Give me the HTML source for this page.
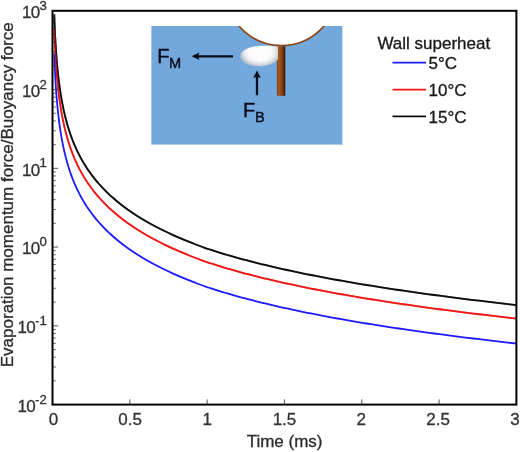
<!DOCTYPE html>
<html><head><meta charset="utf-8"><title>Evaporation momentum force/Buoyancy force</title>
<style>
html,body{margin:0;padding:0;background:#fff;}
body{width:520px;height:452px;overflow:hidden;font-family:"Liberation Sans",Arial,sans-serif;}
svg{display:block;}
svg text{font-family:"Liberation Sans",Arial,sans-serif;}
</style></head><body>
<svg width="520" height="452" viewBox="0 0 520 452">
<defs>
<filter id="soft" x="0" y="0" width="520" height="452" filterUnits="userSpaceOnUse"><feGaussianBlur stdDeviation="0.45"/></filter>
<clipPath id="ax"><rect x="52.5" y="10.8" width="463.9" height="393.8"/></clipPath>
<clipPath id="ins"><rect x="151.2" y="26" width="191.4" height="118.8"/></clipPath>
<radialGradient id="bub" gradientUnits="userSpaceOnUse" cx="260" cy="52" r="21" gradientTransform="translate(260 52) scale(1 0.72) translate(-260 -52)">
<stop offset="0" stop-color="#ffffff"/><stop offset="0.55" stop-color="#fbfbfc"/><stop offset="0.75" stop-color="#e6e8ec"/><stop offset="0.9" stop-color="#c4ccd6"/><stop offset="1" stop-color="#a9b8ca"/>
</radialGradient>
<linearGradient id="wire" x1="0" x2="1" y1="0" y2="0">
<stop offset="0" stop-color="#7a3a10"/><stop offset="0.18" stop-color="#a5561f"/><stop offset="0.6" stop-color="#8a4415"/><stop offset="0.8" stop-color="#5a2a0a"/><stop offset="1" stop-color="#2e1404"/>
</linearGradient>
</defs>
<rect width="520" height="452" fill="#ffffff"/>
<g filter="url(#soft)">
<!-- inset -->
<g clip-path="url(#ins)">
<rect x="151.2" y="26" width="191.4" height="118.8" fill="#72a8dc"/>
<circle cx="281.5" cy="-10.5" r="56" fill="#ffffff" stroke="#8a4513" stroke-width="1.6"/>
<rect x="276.9" y="46.2" width="8.4" height="49.6" fill="url(#wire)"/>
<path d="M240.2,56 C240.4,50.5 249,46.4 261,45.8 C268,45.5 274,45.8 278,46.6 L278,59.5 C274.5,63.8 266.5,66.6 257,66.3 C247,66 240,62 240.2,56 Z" fill="url(#bub)"/>
</g>
<g stroke="#0a0f1c" stroke-width="2.3" fill="#0a0f1c">
<line x1="197" y1="56.3" x2="233" y2="56.3"/>
<path d="M191.6,56.3 L199.4,52.5 L198,56.3 L199.4,60.1 Z" stroke="none"/>
<line x1="257" y1="76" x2="257" y2="95.2"/>
<path d="M257,70.4 L260.8,78 L257,76.8 L253.2,78 Z" stroke="none"/>
</g>
<g fill="#0a0f1c" font-size="20" stroke="#0a0f1c" stroke-width="0.4">
<text x="157.3" y="63">F<tspan dy="4.8" dx="-0.4" font-size="14.6">M</tspan></text>
<text x="243" y="117">F<tspan dy="4.9" dx="-0.3" font-size="14.6">B</tspan></text>
</g>
<!-- curves -->
<g clip-path="url(#ax)">
<path d="M54.26,15.16 L54.29,15.88 L54.31,16.59 L54.34,17.31 L54.36,18.02 L54.39,18.74 L54.42,19.45 L54.44,20.17 L54.47,20.88 L54.50,21.60 L54.53,22.31 L54.55,23.03 L54.58,23.74 L54.61,24.46 L54.64,25.17 L54.67,25.89 L54.70,26.60 L54.73,27.32 L54.77,28.03 L54.80,28.75 L54.83,29.46 L54.86,30.18 L54.90,30.89 L54.93,31.61 L54.96,32.32 L55.00,33.04 L55.03,33.75 L55.07,34.47 L55.10,35.18 L55.14,35.90 L55.18,36.61 L55.22,37.33 L55.25,38.04 L55.29,38.76 L55.33,39.47 L55.37,40.19 L55.41,40.90 L55.45,41.62 L55.49,42.33 L55.54,43.05 L55.58,43.76 L55.62,44.48 L55.66,45.19 L55.71,45.91 L55.75,46.62 L55.80,47.34 L55.85,48.05 L55.89,48.77 L55.94,49.48 L55.99,50.20 L56.04,50.91 L56.09,51.63 L56.14,52.34 L56.19,53.06 L56.24,53.77 L56.29,54.49 L56.35,55.20 L56.40,55.92 L56.45,56.63 L56.51,57.35 L56.57,58.06 L56.62,58.78 L56.68,59.49 L56.74,60.21 L56.80,60.92 L56.86,61.64 L56.92,62.35 L56.98,63.07 L57.05,63.78 L57.11,64.50 L57.17,65.21 L57.24,65.93 L57.31,66.64 L57.37,67.36 L57.44,68.08 L57.51,68.79 L57.58,69.51 L57.65,70.22 L57.73,70.94 L57.80,71.65 L57.87,72.37 L57.95,73.08 L58.03,73.80 L58.10,74.51 L58.18,75.23 L58.26,75.94 L58.34,76.66 L58.42,77.38 L58.51,78.09 L58.59,78.81 L58.68,79.52 L58.76,80.24 L58.85,80.95 L58.94,81.67 L59.03,82.38 L59.12,83.10 L59.22,83.82 L59.31,84.53 L59.40,85.25 L59.50,85.96 L59.60,86.68 L59.70,87.39 L59.80,88.11 L59.90,88.83 L60.01,89.54 L60.11,90.26 L60.22,90.97 L60.33,91.69 L60.44,92.40 L60.55,93.12 L60.66,93.84 L60.78,94.55 L60.89,95.27 L61.01,95.98 L61.13,96.70 L61.25,97.42 L61.37,98.13 L61.50,98.85 L61.62,99.56 L61.75,100.28 L61.88,101.00 L62.01,101.71 L62.15,102.43 L62.28,103.15 L62.42,103.86 L62.56,104.58 L62.70,105.30 L62.84,106.01 L62.99,106.73 L63.13,107.44 L63.28,108.16 L63.44,108.88 L63.59,109.59 L63.74,110.31 L63.90,111.03 L64.06,111.75 L64.22,112.46 L64.39,113.18 L64.56,113.90 L64.72,114.61 L64.90,115.33 L65.07,116.05 L65.25,116.76 L65.43,117.48 L65.61,118.20 L65.79,118.92 L65.98,119.63 L66.17,120.35 L66.36,121.07 L66.55,121.79 L66.75,122.50 L66.95,123.22 L67.15,123.94 L67.36,124.66 L67.57,125.38 L67.78,126.09 L67.99,126.81 L68.21,127.53 L68.43,128.25 L68.65,128.97 L68.88,129.69 L69.11,130.40 L69.34,131.12 L69.58,131.84 L69.82,132.56 L70.06,133.28 L70.31,134.00 L70.56,134.72 L70.81,135.44 L71.07,136.16 L71.33,136.88 L71.59,137.60 L71.86,138.31 L72.13,139.03 L72.41,139.75 L72.69,140.47 L72.97,141.19 L73.26,141.91 L73.55,142.63 L73.84,143.36 L74.14,144.08 L74.45,144.80 L74.75,145.52 L75.07,146.24 L75.38,146.96 L75.70,147.68 L76.03,148.40 L76.36,149.12 L76.69,149.85 L77.03,150.57 L77.38,151.29 L77.73,152.01 L78.08,152.73 L78.44,153.46 L78.80,154.18 L79.17,154.90 L79.55,155.63 L79.93,156.35 L80.31,157.07 L80.70,157.80 L81.10,158.52 L81.50,159.24 L81.90,159.97 L82.32,160.69 L82.74,161.42 L83.16,162.14 L83.59,162.87 L84.03,163.59 L84.47,164.32 L84.92,165.04 L85.37,165.77 L85.83,166.50 L86.30,167.22 L86.77,167.95 L87.26,168.68 L87.74,169.40 L88.24,170.13 L88.74,170.86 L89.25,171.59 L89.76,172.32 L90.29,173.04 L90.82,173.77 L91.35,174.50 L91.90,175.23 L92.45,175.96 L93.01,176.69 L93.58,177.42 L94.16,178.15 L94.74,178.88 L95.33,179.62 L95.93,180.35 L96.54,181.08 L97.16,181.81 L97.79,182.54 L98.42,183.28 L99.07,184.01 L99.72,184.74 L100.38,185.48 L101.06,186.21 L101.74,186.95 L102.43,187.68 L103.13,188.42 L103.84,189.15 L104.56,189.89 L105.29,190.63 L106.03,191.37 L106.78,192.10 L107.54,192.84 L108.31,193.58 L109.10,194.32 L109.89,195.06 L110.70,195.80 L111.51,196.54 L112.34,197.28 L113.18,198.02 L114.03,198.76 L114.89,199.50 L115.77,200.24 L116.66,200.98 L117.56,201.73 L118.47,202.47 L119.40,203.21 L120.33,203.96 L121.29,204.70 L122.25,205.45 L123.23,206.19 L124.22,206.94 L125.23,207.69 L126.25,208.43 L127.28,209.18 L128.33,209.93 L129.40,210.68 L130.47,211.43 L131.57,212.18 L132.68,212.92 L133.80,213.67 L134.94,214.43 L136.10,215.18 L137.27,215.93 L138.46,216.68 L139.67,217.43 L140.89,218.18 L142.13,218.94 L143.39,219.69 L144.66,220.44 L145.96,221.20 L147.27,221.95 L148.60,222.71 L149.95,223.46 L151.31,224.22 L152.70,224.98 L154.11,225.73 L155.53,226.49 L156.98,227.25 L158.44,228.00 L159.93,228.76 L161.44,229.52 L162.96,230.28 L164.51,231.04 L166.08,231.80 L167.68,232.55 L169.29,233.31 L170.93,234.07 L172.59,234.83 L174.28,235.59 L175.99,236.36 L177.72,237.12 L179.48,237.88 L181.26,238.64 L183.06,239.40 L184.90,240.16 L186.75,240.92 L188.64,241.68 L190.55,242.45 L192.48,243.21 L194.45,243.97 L196.44,244.73 L198.46,245.50 L200.51,246.26 L202.58,247.02 L204.69,247.78 L206.82,248.55 L208.99,249.27 L211.18,249.98 L213.41,250.70 L215.67,251.41 L217.96,252.13 L220.28,252.84 L222.63,253.56 L225.02,254.27 L227.44,254.99 L229.89,255.70 L232.38,256.41 L234.91,257.13 L237.46,257.84 L240.06,258.56 L242.69,259.27 L245.36,259.99 L248.06,260.70 L250.81,261.42 L253.59,262.13 L256.41,262.85 L259.27,263.56 L262.17,264.28 L265.12,264.99 L268.10,265.71 L271.12,266.42 L274.19,267.14 L277.30,267.85 L280.45,268.57 L283.65,269.28 L286.89,270.00 L290.18,270.71 L293.52,271.43 L296.90,272.14 L300.33,272.86 L303.80,273.57 L307.33,274.29 L310.91,275.00 L314.53,275.71 L318.21,276.43 L321.93,277.14 L325.71,277.86 L329.55,278.57 L333.43,279.29 L337.38,280.00 L341.37,280.72 L345.43,281.43 L349.53,282.15 L353.70,282.86 L357.93,283.58 L362.21,284.29 L366.56,285.01 L370.96,285.72 L375.43,286.44 L379.96,287.15 L384.56,287.87 L389.21,288.58 L393.94,289.30 L398.73,290.01 L403.59,290.73 L408.51,291.44 L413.51,292.16 L418.57,292.87 L423.71,293.59 L428.91,294.30 L434.20,295.01 L439.55,295.73 L444.98,296.44 L450.49,297.16 L456.07,297.87 L461.73,298.59 L467.47,299.30 L473.30,300.02 L479.20,300.73 L485.18,301.45 L491.26,302.16 L497.41,302.88 L503.65,303.59 L509.98,304.31 L516.40,305.02" fill="none" stroke="#111111" stroke-width="1.8" stroke-linejoin="round"/>
<path d="M54.26,28.69 L54.29,29.41 L54.31,30.12 L54.34,30.84 L54.36,31.55 L54.39,32.27 L54.42,32.98 L54.44,33.70 L54.47,34.41 L54.50,35.13 L54.53,35.84 L54.55,36.56 L54.58,37.27 L54.61,37.99 L54.64,38.70 L54.67,39.42 L54.70,40.13 L54.73,40.85 L54.77,41.56 L54.80,42.28 L54.83,42.99 L54.86,43.71 L54.90,44.42 L54.93,45.14 L54.96,45.85 L55.00,46.57 L55.03,47.28 L55.07,48.00 L55.10,48.71 L55.14,49.43 L55.18,50.14 L55.22,50.86 L55.25,51.57 L55.29,52.29 L55.33,53.00 L55.37,53.72 L55.41,54.43 L55.45,55.15 L55.49,55.86 L55.54,56.58 L55.58,57.29 L55.62,58.01 L55.66,58.72 L55.71,59.44 L55.75,60.15 L55.80,60.87 L55.85,61.58 L55.89,62.30 L55.94,63.01 L55.99,63.73 L56.04,64.44 L56.09,65.16 L56.14,65.87 L56.19,66.59 L56.24,67.30 L56.29,68.02 L56.35,68.73 L56.40,69.45 L56.45,70.16 L56.51,70.88 L56.57,71.59 L56.62,72.31 L56.68,73.02 L56.74,73.74 L56.80,74.45 L56.86,75.17 L56.92,75.88 L56.98,76.60 L57.05,77.31 L57.11,78.03 L57.17,78.74 L57.24,79.46 L57.31,80.18 L57.37,80.89 L57.44,81.61 L57.51,82.32 L57.58,83.04 L57.65,83.75 L57.73,84.47 L57.80,85.18 L57.87,85.90 L57.95,86.61 L58.03,87.33 L58.10,88.04 L58.18,88.76 L58.26,89.47 L58.34,90.19 L58.42,90.91 L58.51,91.62 L58.59,92.34 L58.68,93.05 L58.76,93.77 L58.85,94.48 L58.94,95.20 L59.03,95.91 L59.12,96.63 L59.22,97.35 L59.31,98.06 L59.40,98.78 L59.50,99.49 L59.60,100.21 L59.70,100.92 L59.80,101.64 L59.90,102.36 L60.01,103.07 L60.11,103.79 L60.22,104.50 L60.33,105.22 L60.44,105.93 L60.55,106.65 L60.66,107.37 L60.78,108.08 L60.89,108.80 L61.01,109.51 L61.13,110.23 L61.25,110.95 L61.37,111.66 L61.50,112.38 L61.62,113.09 L61.75,113.81 L61.88,114.53 L62.01,115.24 L62.15,115.96 L62.28,116.68 L62.42,117.39 L62.56,118.11 L62.70,118.83 L62.84,119.54 L62.99,120.26 L63.13,120.98 L63.28,121.69 L63.44,122.41 L63.59,123.13 L63.74,123.84 L63.90,124.56 L64.06,125.28 L64.22,125.99 L64.39,126.71 L64.56,127.43 L64.72,128.14 L64.90,128.86 L65.07,129.58 L65.25,130.29 L65.43,131.01 L65.61,131.73 L65.79,132.45 L65.98,133.16 L66.17,133.88 L66.36,134.60 L66.55,135.32 L66.75,136.03 L66.95,136.75 L67.15,137.47 L67.36,138.19 L67.57,138.91 L67.78,139.62 L67.99,140.34 L68.21,141.06 L68.43,141.78 L68.65,142.50 L68.88,143.22 L69.11,143.93 L69.34,144.65 L69.58,145.37 L69.82,146.09 L70.06,146.81 L70.31,147.53 L70.56,148.25 L70.81,148.97 L71.07,149.69 L71.33,150.41 L71.59,151.13 L71.86,151.85 L72.13,152.56 L72.41,153.28 L72.69,154.00 L72.97,154.72 L73.26,155.45 L73.55,156.17 L73.84,156.89 L74.14,157.61 L74.45,158.33 L74.75,159.05 L75.07,159.77 L75.38,160.49 L75.70,161.21 L76.03,161.93 L76.36,162.65 L76.69,163.38 L77.03,164.10 L77.38,164.82 L77.73,165.54 L78.08,166.27 L78.44,166.99 L78.80,167.71 L79.17,168.43 L79.55,169.16 L79.93,169.88 L80.31,170.60 L80.70,171.33 L81.10,172.05 L81.50,172.77 L81.90,173.50 L82.32,174.22 L82.74,174.95 L83.16,175.67 L83.59,176.40 L84.03,177.12 L84.47,177.85 L84.92,178.57 L85.37,179.30 L85.83,180.03 L86.30,180.75 L86.77,181.48 L87.26,182.21 L87.74,182.93 L88.24,183.66 L88.74,184.39 L89.25,185.12 L89.76,185.85 L90.29,186.58 L90.82,187.30 L91.35,188.03 L91.90,188.76 L92.45,189.49 L93.01,190.22 L93.58,190.95 L94.16,191.68 L94.74,192.41 L95.33,193.15 L95.93,193.88 L96.54,194.61 L97.16,195.34 L97.79,196.08 L98.42,196.81 L99.07,197.54 L99.72,198.28 L100.38,199.01 L101.06,199.74 L101.74,200.48 L102.43,201.21 L103.13,201.95 L103.84,202.69 L104.56,203.42 L105.29,204.16 L106.03,204.90 L106.78,205.63 L107.54,206.37 L108.31,207.11 L109.10,207.85 L109.89,208.59 L110.70,209.33 L111.51,210.07 L112.34,210.81 L113.18,211.55 L114.03,212.29 L114.89,213.03 L115.77,213.77 L116.66,214.52 L117.56,215.26 L118.47,216.00 L119.40,216.75 L120.33,217.49 L121.29,218.23 L122.25,218.98 L123.23,219.73 L124.22,220.47 L125.23,221.22 L126.25,221.96 L127.28,222.71 L128.33,223.46 L129.40,224.21 L130.47,224.96 L131.57,225.71 L132.68,226.46 L133.80,227.21 L134.94,227.96 L136.10,228.71 L137.27,229.46 L138.46,230.21 L139.67,230.96 L140.89,231.71 L142.13,232.47 L143.39,233.22 L144.66,233.97 L145.96,234.73 L147.27,235.48 L148.60,236.24 L149.95,236.99 L151.31,237.75 L152.70,238.51 L154.11,239.26 L155.53,240.02 L156.98,240.78 L158.44,241.53 L159.93,242.29 L161.44,243.05 L162.96,243.81 L164.51,244.57 L166.08,245.33 L167.68,246.09 L169.29,246.84 L170.93,247.60 L172.59,248.36 L174.28,249.13 L175.99,249.89 L177.72,250.65 L179.48,251.41 L181.26,252.17 L183.06,252.93 L184.90,253.69 L186.75,254.45 L188.64,255.22 L190.55,255.98 L192.48,256.74 L194.45,257.50 L196.44,258.26 L198.46,259.03 L200.51,259.79 L202.58,260.55 L204.69,261.31 L206.82,262.08 L208.99,262.80 L211.18,263.51 L213.41,264.23 L215.67,264.94 L217.96,265.66 L220.28,266.37 L222.63,267.09 L225.02,267.80 L227.44,268.52 L229.89,269.23 L232.38,269.95 L234.91,270.66 L237.46,271.37 L240.06,272.09 L242.69,272.80 L245.36,273.52 L248.06,274.23 L250.81,274.95 L253.59,275.66 L256.41,276.38 L259.27,277.09 L262.17,277.81 L265.12,278.52 L268.10,279.24 L271.12,279.95 L274.19,280.67 L277.30,281.38 L280.45,282.10 L283.65,282.81 L286.89,283.53 L290.18,284.24 L293.52,284.96 L296.90,285.67 L300.33,286.39 L303.80,287.10 L307.33,287.82 L310.91,288.53 L314.53,289.25 L318.21,289.96 L321.93,290.67 L325.71,291.39 L329.55,292.10 L333.43,292.82 L337.38,293.53 L341.37,294.25 L345.43,294.96 L349.53,295.68 L353.70,296.39 L357.93,297.11 L362.21,297.82 L366.56,298.54 L370.96,299.25 L375.43,299.97 L379.96,300.68 L384.56,301.40 L389.21,302.11 L393.94,302.83 L398.73,303.54 L403.59,304.26 L408.51,304.97 L413.51,305.69 L418.57,306.40 L423.71,307.12 L428.91,307.83 L434.20,308.55 L439.55,309.26 L444.98,309.97 L450.49,310.69 L456.07,311.40 L461.73,312.12 L467.47,312.83 L473.30,313.55 L479.20,314.26 L485.18,314.98 L491.26,315.69 L497.41,316.41 L503.65,317.12 L509.98,317.84 L516.40,318.55" fill="none" stroke="#f01818" stroke-width="1.8" stroke-linejoin="round"/>
<path d="M54.26,53.65 L54.29,54.36 L54.31,55.08 L54.34,55.79 L54.36,56.51 L54.39,57.22 L54.42,57.94 L54.44,58.65 L54.47,59.37 L54.50,60.08 L54.53,60.80 L54.55,61.51 L54.58,62.23 L54.61,62.94 L54.64,63.66 L54.67,64.37 L54.70,65.09 L54.73,65.80 L54.77,66.52 L54.80,67.23 L54.83,67.95 L54.86,68.66 L54.90,69.38 L54.93,70.09 L54.96,70.81 L55.00,71.52 L55.03,72.24 L55.07,72.95 L55.10,73.67 L55.14,74.38 L55.18,75.10 L55.22,75.81 L55.25,76.53 L55.29,77.24 L55.33,77.96 L55.37,78.67 L55.41,79.39 L55.45,80.10 L55.49,80.82 L55.54,81.53 L55.58,82.25 L55.62,82.96 L55.66,83.68 L55.71,84.39 L55.75,85.11 L55.80,85.82 L55.85,86.54 L55.89,87.25 L55.94,87.97 L55.99,88.68 L56.04,89.40 L56.09,90.11 L56.14,90.83 L56.19,91.54 L56.24,92.26 L56.29,92.97 L56.35,93.69 L56.40,94.40 L56.45,95.12 L56.51,95.83 L56.57,96.55 L56.62,97.26 L56.68,97.98 L56.74,98.69 L56.80,99.41 L56.86,100.12 L56.92,100.84 L56.98,101.55 L57.05,102.27 L57.11,102.98 L57.17,103.70 L57.24,104.42 L57.31,105.13 L57.37,105.85 L57.44,106.56 L57.51,107.28 L57.58,107.99 L57.65,108.71 L57.73,109.42 L57.80,110.14 L57.87,110.85 L57.95,111.57 L58.03,112.28 L58.10,113.00 L58.18,113.71 L58.26,114.43 L58.34,115.15 L58.42,115.86 L58.51,116.58 L58.59,117.29 L58.68,118.01 L58.76,118.72 L58.85,119.44 L58.94,120.15 L59.03,120.87 L59.12,121.59 L59.22,122.30 L59.31,123.02 L59.40,123.73 L59.50,124.45 L59.60,125.16 L59.70,125.88 L59.80,126.59 L59.90,127.31 L60.01,128.03 L60.11,128.74 L60.22,129.46 L60.33,130.17 L60.44,130.89 L60.55,131.61 L60.66,132.32 L60.78,133.04 L60.89,133.75 L61.01,134.47 L61.13,135.19 L61.25,135.90 L61.37,136.62 L61.50,137.33 L61.62,138.05 L61.75,138.77 L61.88,139.48 L62.01,140.20 L62.15,140.92 L62.28,141.63 L62.42,142.35 L62.56,143.06 L62.70,143.78 L62.84,144.50 L62.99,145.21 L63.13,145.93 L63.28,146.65 L63.44,147.36 L63.59,148.08 L63.74,148.80 L63.90,149.51 L64.06,150.23 L64.22,150.95 L64.39,151.66 L64.56,152.38 L64.72,153.10 L64.90,153.82 L65.07,154.53 L65.25,155.25 L65.43,155.97 L65.61,156.68 L65.79,157.40 L65.98,158.12 L66.17,158.84 L66.36,159.55 L66.55,160.27 L66.75,160.99 L66.95,161.71 L67.15,162.43 L67.36,163.14 L67.57,163.86 L67.78,164.58 L67.99,165.30 L68.21,166.02 L68.43,166.73 L68.65,167.45 L68.88,168.17 L69.11,168.89 L69.34,169.61 L69.58,170.33 L69.82,171.05 L70.06,171.76 L70.31,172.48 L70.56,173.20 L70.81,173.92 L71.07,174.64 L71.33,175.36 L71.59,176.08 L71.86,176.80 L72.13,177.52 L72.41,178.24 L72.69,178.96 L72.97,179.68 L73.26,180.40 L73.55,181.12 L73.84,181.84 L74.14,182.56 L74.45,183.28 L74.75,184.00 L75.07,184.72 L75.38,185.45 L75.70,186.17 L76.03,186.89 L76.36,187.61 L76.69,188.33 L77.03,189.05 L77.38,189.78 L77.73,190.50 L78.08,191.22 L78.44,191.94 L78.80,192.67 L79.17,193.39 L79.55,194.11 L79.93,194.83 L80.31,195.56 L80.70,196.28 L81.10,197.01 L81.50,197.73 L81.90,198.45 L82.32,199.18 L82.74,199.90 L83.16,200.63 L83.59,201.35 L84.03,202.08 L84.47,202.80 L84.92,203.53 L85.37,204.26 L85.83,204.98 L86.30,205.71 L86.77,206.44 L87.26,207.16 L87.74,207.89 L88.24,208.62 L88.74,209.35 L89.25,210.07 L89.76,210.80 L90.29,211.53 L90.82,212.26 L91.35,212.99 L91.90,213.72 L92.45,214.45 L93.01,215.18 L93.58,215.91 L94.16,216.64 L94.74,217.37 L95.33,218.10 L95.93,218.83 L96.54,219.57 L97.16,220.30 L97.79,221.03 L98.42,221.76 L99.07,222.50 L99.72,223.23 L100.38,223.96 L101.06,224.70 L101.74,225.43 L102.43,226.17 L103.13,226.90 L103.84,227.64 L104.56,228.38 L105.29,229.11 L106.03,229.85 L106.78,230.59 L107.54,231.33 L108.31,232.06 L109.10,232.80 L109.89,233.54 L110.70,234.28 L111.51,235.02 L112.34,235.76 L113.18,236.50 L114.03,237.24 L114.89,237.99 L115.77,238.73 L116.66,239.47 L117.56,240.21 L118.47,240.96 L119.40,241.70 L120.33,242.44 L121.29,243.19 L122.25,243.93 L123.23,244.68 L124.22,245.43 L125.23,246.17 L126.25,246.92 L127.28,247.67 L128.33,248.41 L129.40,249.16 L130.47,249.91 L131.57,250.66 L132.68,251.41 L133.80,252.16 L134.94,252.91 L136.10,253.66 L137.27,254.41 L138.46,255.16 L139.67,255.92 L140.89,256.67 L142.13,257.42 L143.39,258.18 L144.66,258.93 L145.96,259.68 L147.27,260.44 L148.60,261.19 L149.95,261.95 L151.31,262.70 L152.70,263.46 L154.11,264.22 L155.53,264.97 L156.98,265.73 L158.44,266.49 L159.93,267.25 L161.44,268.00 L162.96,268.76 L164.51,269.52 L166.08,270.28 L167.68,271.04 L169.29,271.80 L170.93,272.56 L172.59,273.32 L174.28,274.08 L175.99,274.84 L177.72,275.60 L179.48,276.36 L181.26,277.12 L183.06,277.89 L184.90,278.65 L186.75,279.41 L188.64,280.17 L190.55,280.93 L192.48,281.69 L194.45,282.46 L196.44,283.22 L198.46,283.98 L200.51,284.74 L202.58,285.51 L204.69,286.27 L206.82,287.03 L208.99,287.75 L211.18,288.47 L213.41,289.18 L215.67,289.90 L217.96,290.61 L220.28,291.33 L222.63,292.04 L225.02,292.76 L227.44,293.47 L229.89,294.19 L232.38,294.90 L234.91,295.62 L237.46,296.33 L240.06,297.04 L242.69,297.76 L245.36,298.47 L248.06,299.19 L250.81,299.90 L253.59,300.62 L256.41,301.33 L259.27,302.05 L262.17,302.76 L265.12,303.48 L268.10,304.19 L271.12,304.91 L274.19,305.62 L277.30,306.34 L280.45,307.05 L283.65,307.77 L286.89,308.48 L290.18,309.20 L293.52,309.91 L296.90,310.63 L300.33,311.34 L303.80,312.06 L307.33,312.77 L310.91,313.49 L314.53,314.20 L318.21,314.92 L321.93,315.63 L325.71,316.34 L329.55,317.06 L333.43,317.77 L337.38,318.49 L341.37,319.20 L345.43,319.92 L349.53,320.63 L353.70,321.35 L357.93,322.06 L362.21,322.78 L366.56,323.49 L370.96,324.21 L375.43,324.92 L379.96,325.64 L384.56,326.35 L389.21,327.07 L393.94,327.78 L398.73,328.50 L403.59,329.21 L408.51,329.93 L413.51,330.64 L418.57,331.36 L423.71,332.07 L428.91,332.79 L434.20,333.50 L439.55,334.21 L444.98,334.93 L450.49,335.64 L456.07,336.36 L461.73,337.07 L467.47,337.79 L473.30,338.50 L479.20,339.22 L485.18,339.93 L491.26,340.65 L497.41,341.36 L503.65,342.08 L509.98,342.79 L516.40,343.51" fill="none" stroke="#1a1aff" stroke-width="1.8" stroke-linejoin="round"/>
<path d="M54.26,28.69 L54.29,29.41 L54.31,30.12 L54.34,30.84 L54.36,31.55 L54.39,32.27 L54.42,32.98 L54.44,33.70 L54.47,34.41 L54.50,35.13 L54.53,35.84 L54.55,36.56 L54.58,37.27 L54.61,37.99 L54.64,38.70 L54.67,39.42 L54.70,40.13 L54.73,40.85 L54.77,41.56 L54.80,42.28 L54.83,42.99 L54.86,43.71 L54.90,44.42 L54.93,45.14 L54.96,45.85 L55.00,46.57 L55.03,47.28 L55.07,48.00 L55.10,48.71 L55.14,49.43 L55.18,50.14 L55.22,50.86 L55.25,51.57 L55.29,52.29 L55.33,53.00 L55.37,53.72 L55.41,54.43 L55.45,55.15 L55.49,55.86 L55.54,56.58 L55.58,57.29 L55.62,58.01 L55.66,58.72 L55.71,59.44 L55.75,60.15 L55.80,60.87 L55.85,61.58 L55.89,62.30 L55.94,63.01 L55.99,63.73 L56.04,64.44 L56.09,65.16 L56.14,65.87 L56.19,66.59 L56.24,67.30 L56.29,68.02 L56.35,68.73 L56.40,69.45 L56.45,70.16 L56.51,70.88 L56.57,71.59 L56.62,72.31 L56.68,73.02 L56.74,73.74 L56.80,74.45 L56.86,75.17 L56.92,75.88 L56.98,76.60 L57.05,77.31 L57.11,78.03 L57.17,78.74 L57.24,79.46 L57.31,80.18 L57.37,80.89 L57.44,81.61 L57.51,82.32 L57.58,83.04 L57.65,83.75 L57.73,84.47 L57.80,85.18 L57.87,85.90 L57.95,86.61 L58.03,87.33 L58.10,88.04 L58.18,88.76 L58.26,89.47 L58.34,90.19 L58.42,90.91 L58.51,91.62 L58.59,92.34 L58.68,93.05 L58.76,93.77 L58.85,94.48 L58.94,95.20 L59.03,95.91 L59.12,96.63 L59.22,97.35 L59.31,98.06 L59.40,98.78 L59.50,99.49 L59.60,100.21 L59.70,100.92 L59.80,101.64 L59.90,102.36 L60.01,103.07 L60.11,103.79 L60.22,104.50 L60.33,105.22 L60.44,105.93 L60.55,106.65 L60.66,107.37 L60.78,108.08 L60.89,108.80 L61.01,109.51 L61.13,110.23 L61.25,110.95 L61.37,111.66 L61.50,112.38 L61.62,113.09 L61.75,113.81 L61.88,114.53 L62.01,115.24 L62.15,115.96 L62.28,116.68 L62.42,117.39 L62.56,118.11 L62.70,118.83 L62.84,119.54 L62.99,120.26 L63.13,120.98 L63.28,121.69 L63.44,122.41 L63.59,123.13 L63.74,123.84 L63.90,124.56 L64.06,125.28 L64.22,125.99 L64.39,126.71 L64.56,127.43 L64.72,128.14 L64.90,128.86 L65.07,129.58 L65.25,130.29 L65.43,131.01 L65.61,131.73 L65.79,132.45 L65.98,133.16 L66.17,133.88 L66.36,134.60 L66.55,135.32 L66.75,136.03 L66.95,136.75 L67.15,137.47 L67.36,138.19 L67.57,138.91 L67.78,139.62 L67.99,140.34 L68.21,141.06 L68.43,141.78 L68.65,142.50 L68.88,143.22 L69.11,143.93 L69.34,144.65 L69.58,145.37 L69.82,146.09 L70.06,146.81 L70.31,147.53 L70.56,148.25 L70.81,148.97 L71.07,149.69 L71.33,150.41 L71.59,151.13 L71.86,151.85 L72.13,152.56 L72.41,153.28 L72.69,154.00 L72.97,154.72 L73.26,155.45 L73.55,156.17 L73.84,156.89 L74.14,157.61 L74.45,158.33 L74.75,159.05 L75.07,159.77 L75.38,160.49 L75.70,161.21 L76.03,161.93 L76.36,162.65 L76.69,163.38 L77.03,164.10 L77.38,164.82 L77.73,165.54 L78.08,166.27 L78.44,166.99 L78.80,167.71 L79.17,168.43 L79.55,169.16 L79.93,169.88 L80.31,170.60 L80.70,171.33 L81.10,172.05 L81.50,172.77 L81.90,173.50 L82.32,174.22 L82.74,174.95 L83.16,175.67 L83.59,176.40 L84.03,177.12 L84.47,177.85 L84.92,178.57 L85.37,179.30 L85.83,180.03 L86.30,180.75 L86.77,181.48 L87.26,182.21 L87.74,182.93 L88.24,183.66 L88.74,184.39 L89.25,185.12 L89.76,185.85 L90.29,186.58 L90.82,187.30 L91.35,188.03 L91.90,188.76 L92.45,189.49 L93.01,190.22 L93.58,190.95 L94.16,191.68 L94.74,192.41 L95.33,193.15 L95.93,193.88 L96.54,194.61 L97.16,195.34 L97.79,196.08 L98.42,196.81 L99.07,197.54 L99.72,198.28 L100.38,199.01 L101.06,199.74 L101.74,200.48 L102.43,201.21 L103.13,201.95 L103.84,202.69 L104.56,203.42 L105.29,204.16 L106.03,204.90 L106.78,205.63 L107.54,206.37 L108.31,207.11 L109.10,207.85 L109.89,208.59 L110.70,209.33 L111.51,210.07 L112.34,210.81 L113.18,211.55 L114.03,212.29 L114.89,213.03 L115.77,213.77 L116.66,214.52 L117.56,215.26 L118.47,216.00 L119.40,216.75 L120.33,217.49 L121.29,218.23 L122.25,218.98 L123.23,219.73 L124.22,220.47 L125.23,221.22 L126.25,221.96 L127.28,222.71 L128.33,223.46 L129.40,224.21 L130.47,224.96 L131.57,225.71 L132.68,226.46 L133.80,227.21 L134.94,227.96 L136.10,228.71 L137.27,229.46 L138.46,230.21 L139.67,230.96 L140.89,231.71 L142.13,232.47 L143.39,233.22 L144.66,233.97 L145.96,234.73 L147.27,235.48 L148.60,236.24 L149.95,236.99 L151.31,237.75 L152.70,238.51 L154.11,239.26 L155.53,240.02 L156.98,240.78 L158.44,241.53 L159.93,242.29 L161.44,243.05 L162.96,243.81 L164.51,244.57 L166.08,245.33 L167.68,246.09 L169.29,246.84 L170.93,247.60 L172.59,248.36 L174.28,249.13 L175.99,249.89 L177.72,250.65 L179.48,251.41 L181.26,252.17 L183.06,252.93 L184.90,253.69 L186.75,254.45 L188.64,255.22 L190.55,255.98 L192.48,256.74 L194.45,257.50 L196.44,258.26 L198.46,259.03 L200.51,259.79 L202.58,260.55 L204.69,261.31 L206.82,262.08 L208.99,262.80 L211.18,263.51 L213.41,264.23 L215.67,264.94 L217.96,265.66 L220.28,266.37 L222.63,267.09 L225.02,267.80 L227.44,268.52 L229.89,269.23 L232.38,269.95 L234.91,270.66 L237.46,271.37 L240.06,272.09 L242.69,272.80 L245.36,273.52 L248.06,274.23 L250.81,274.95 L253.59,275.66 L256.41,276.38 L259.27,277.09 L262.17,277.81 L265.12,278.52 L268.10,279.24 L271.12,279.95 L274.19,280.67 L277.30,281.38 L280.45,282.10 L283.65,282.81 L286.89,283.53 L290.18,284.24 L293.52,284.96 L296.90,285.67 L300.33,286.39 L303.80,287.10 L307.33,287.82 L310.91,288.53 L314.53,289.25 L318.21,289.96 L321.93,290.67 L325.71,291.39 L329.55,292.10 L333.43,292.82 L337.38,293.53 L341.37,294.25 L345.43,294.96 L349.53,295.68 L353.70,296.39 L357.93,297.11 L362.21,297.82 L366.56,298.54 L370.96,299.25 L375.43,299.97 L379.96,300.68 L384.56,301.40 L389.21,302.11 L393.94,302.83 L398.73,303.54 L403.59,304.26 L408.51,304.97 L413.51,305.69 L418.57,306.40 L423.71,307.12 L428.91,307.83 L434.20,308.55 L439.55,309.26 L444.98,309.97 L450.49,310.69 L456.07,311.40 L461.73,312.12 L467.47,312.83 L473.30,313.55 L479.20,314.26 L485.18,314.98 L491.26,315.69 L497.41,316.41 L503.65,317.12 L509.98,317.84 L516.40,318.55" fill="none" stroke="#f01818" stroke-opacity="0.45" stroke-width="1.8"/>
<path d="M54.26,15.16 L54.29,15.88 L54.31,16.59 L54.34,17.31 L54.36,18.02 L54.39,18.74 L54.42,19.45 L54.44,20.17 L54.47,20.88 L54.50,21.60 L54.53,22.31 L54.55,23.03 L54.58,23.74 L54.61,24.46 L54.64,25.17 L54.67,25.89 L54.70,26.60 L54.73,27.32 L54.77,28.03 L54.80,28.75 L54.83,29.46 L54.86,30.18 L54.90,30.89 L54.93,31.61 L54.96,32.32 L55.00,33.04 L55.03,33.75 L55.07,34.47 L55.10,35.18 L55.14,35.90 L55.18,36.61 L55.22,37.33 L55.25,38.04 L55.29,38.76 L55.33,39.47 L55.37,40.19 L55.41,40.90 L55.45,41.62 L55.49,42.33 L55.54,43.05 L55.58,43.76 L55.62,44.48 L55.66,45.19 L55.71,45.91 L55.75,46.62 L55.80,47.34 L55.85,48.05 L55.89,48.77 L55.94,49.48 L55.99,50.20 L56.04,50.91 L56.09,51.63 L56.14,52.34 L56.19,53.06 L56.24,53.77 L56.29,54.49 L56.35,55.20 L56.40,55.92 L56.45,56.63 L56.51,57.35 L56.57,58.06 L56.62,58.78 L56.68,59.49 L56.74,60.21 L56.80,60.92 L56.86,61.64 L56.92,62.35 L56.98,63.07 L57.05,63.78 L57.11,64.50 L57.17,65.21 L57.24,65.93 L57.31,66.64 L57.37,67.36 L57.44,68.08 L57.51,68.79 L57.58,69.51 L57.65,70.22 L57.73,70.94 L57.80,71.65 L57.87,72.37 L57.95,73.08 L58.03,73.80 L58.10,74.51 L58.18,75.23 L58.26,75.94 L58.34,76.66 L58.42,77.38 L58.51,78.09 L58.59,78.81 L58.68,79.52 L58.76,80.24 L58.85,80.95 L58.94,81.67 L59.03,82.38 L59.12,83.10 L59.22,83.82 L59.31,84.53 L59.40,85.25 L59.50,85.96 L59.60,86.68 L59.70,87.39 L59.80,88.11 L59.90,88.83 L60.01,89.54 L60.11,90.26 L60.22,90.97 L60.33,91.69 L60.44,92.40 L60.55,93.12 L60.66,93.84 L60.78,94.55 L60.89,95.27 L61.01,95.98 L61.13,96.70 L61.25,97.42 L61.37,98.13 L61.50,98.85 L61.62,99.56 L61.75,100.28 L61.88,101.00 L62.01,101.71 L62.15,102.43 L62.28,103.15 L62.42,103.86 L62.56,104.58 L62.70,105.30 L62.84,106.01 L62.99,106.73 L63.13,107.44 L63.28,108.16 L63.44,108.88 L63.59,109.59 L63.74,110.31 L63.90,111.03 L64.06,111.75 L64.22,112.46 L64.39,113.18 L64.56,113.90 L64.72,114.61 L64.90,115.33 L65.07,116.05 L65.25,116.76 L65.43,117.48 L65.61,118.20 L65.79,118.92 L65.98,119.63 L66.17,120.35 L66.36,121.07 L66.55,121.79 L66.75,122.50 L66.95,123.22 L67.15,123.94 L67.36,124.66 L67.57,125.38 L67.78,126.09 L67.99,126.81 L68.21,127.53 L68.43,128.25 L68.65,128.97 L68.88,129.69 L69.11,130.40 L69.34,131.12 L69.58,131.84 L69.82,132.56 L70.06,133.28 L70.31,134.00 L70.56,134.72 L70.81,135.44 L71.07,136.16 L71.33,136.88 L71.59,137.60 L71.86,138.31 L72.13,139.03 L72.41,139.75 L72.69,140.47 L72.97,141.19 L73.26,141.91 L73.55,142.63 L73.84,143.36 L74.14,144.08 L74.45,144.80 L74.75,145.52 L75.07,146.24 L75.38,146.96 L75.70,147.68 L76.03,148.40 L76.36,149.12 L76.69,149.85 L77.03,150.57 L77.38,151.29 L77.73,152.01 L78.08,152.73 L78.44,153.46 L78.80,154.18 L79.17,154.90 L79.55,155.63 L79.93,156.35 L80.31,157.07 L80.70,157.80 L81.10,158.52 L81.50,159.24 L81.90,159.97 L82.32,160.69 L82.74,161.42 L83.16,162.14 L83.59,162.87 L84.03,163.59 L84.47,164.32 L84.92,165.04 L85.37,165.77 L85.83,166.50 L86.30,167.22 L86.77,167.95 L87.26,168.68 L87.74,169.40 L88.24,170.13 L88.74,170.86 L89.25,171.59 L89.76,172.32 L90.29,173.04 L90.82,173.77 L91.35,174.50 L91.90,175.23 L92.45,175.96 L93.01,176.69 L93.58,177.42 L94.16,178.15 L94.74,178.88 L95.33,179.62 L95.93,180.35 L96.54,181.08 L97.16,181.81 L97.79,182.54 L98.42,183.28 L99.07,184.01 L99.72,184.74 L100.38,185.48 L101.06,186.21 L101.74,186.95 L102.43,187.68 L103.13,188.42 L103.84,189.15 L104.56,189.89 L105.29,190.63 L106.03,191.37 L106.78,192.10 L107.54,192.84 L108.31,193.58 L109.10,194.32 L109.89,195.06 L110.70,195.80 L111.51,196.54 L112.34,197.28 L113.18,198.02 L114.03,198.76 L114.89,199.50 L115.77,200.24 L116.66,200.98 L117.56,201.73 L118.47,202.47 L119.40,203.21 L120.33,203.96 L121.29,204.70 L122.25,205.45 L123.23,206.19 L124.22,206.94 L125.23,207.69 L126.25,208.43 L127.28,209.18 L128.33,209.93 L129.40,210.68 L130.47,211.43 L131.57,212.18 L132.68,212.92 L133.80,213.67 L134.94,214.43 L136.10,215.18 L137.27,215.93 L138.46,216.68 L139.67,217.43 L140.89,218.18 L142.13,218.94 L143.39,219.69 L144.66,220.44 L145.96,221.20 L147.27,221.95 L148.60,222.71 L149.95,223.46 L151.31,224.22 L152.70,224.98 L154.11,225.73 L155.53,226.49 L156.98,227.25 L158.44,228.00 L159.93,228.76 L161.44,229.52 L162.96,230.28 L164.51,231.04 L166.08,231.80 L167.68,232.55 L169.29,233.31 L170.93,234.07 L172.59,234.83 L174.28,235.59 L175.99,236.36 L177.72,237.12 L179.48,237.88 L181.26,238.64 L183.06,239.40 L184.90,240.16 L186.75,240.92 L188.64,241.68 L190.55,242.45 L192.48,243.21 L194.45,243.97 L196.44,244.73 L198.46,245.50 L200.51,246.26 L202.58,247.02 L204.69,247.78 L206.82,248.55 L208.99,249.27 L211.18,249.98 L213.41,250.70 L215.67,251.41 L217.96,252.13 L220.28,252.84 L222.63,253.56 L225.02,254.27 L227.44,254.99 L229.89,255.70 L232.38,256.41 L234.91,257.13 L237.46,257.84 L240.06,258.56 L242.69,259.27 L245.36,259.99 L248.06,260.70 L250.81,261.42 L253.59,262.13 L256.41,262.85 L259.27,263.56 L262.17,264.28 L265.12,264.99 L268.10,265.71 L271.12,266.42 L274.19,267.14 L277.30,267.85 L280.45,268.57 L283.65,269.28 L286.89,270.00 L290.18,270.71 L293.52,271.43 L296.90,272.14 L300.33,272.86 L303.80,273.57 L307.33,274.29 L310.91,275.00 L314.53,275.71 L318.21,276.43 L321.93,277.14 L325.71,277.86 L329.55,278.57 L333.43,279.29 L337.38,280.00 L341.37,280.72 L345.43,281.43 L349.53,282.15 L353.70,282.86 L357.93,283.58 L362.21,284.29 L366.56,285.01 L370.96,285.72 L375.43,286.44 L379.96,287.15 L384.56,287.87 L389.21,288.58 L393.94,289.30 L398.73,290.01 L403.59,290.73 L408.51,291.44 L413.51,292.16 L418.57,292.87 L423.71,293.59 L428.91,294.30 L434.20,295.01 L439.55,295.73 L444.98,296.44 L450.49,297.16 L456.07,297.87 L461.73,298.59 L467.47,299.30 L473.30,300.02 L479.20,300.73 L485.18,301.45 L491.26,302.16 L497.41,302.88 L503.65,303.59 L509.98,304.31 L516.40,305.02" fill="none" stroke="#111111" stroke-opacity="0.5" stroke-width="1.8"/>
</g>
<!-- ticks -->
<g stroke="#444" stroke-width="0.9">
<line x1="129.82" y1="404.6" x2="129.82" y2="399.4"/><line x1="207.13" y1="404.6" x2="207.13" y2="399.4"/><line x1="284.45" y1="404.6" x2="284.45" y2="399.4"/><line x1="361.77" y1="404.6" x2="361.77" y2="399.4"/><line x1="439.08" y1="404.6" x2="439.08" y2="399.4"/><line x1="52.5" y1="89.56" x2="58.1" y2="89.56"/><line x1="52.5" y1="168.32" x2="58.1" y2="168.32"/><line x1="52.5" y1="247.08" x2="58.1" y2="247.08"/><line x1="52.5" y1="325.84" x2="58.1" y2="325.84"/>
</g>
<g stroke="#333" stroke-width="0.8">
<line x1="52.5" y1="380.89" x2="55.7" y2="380.89"/><line x1="52.5" y1="367.02" x2="55.7" y2="367.02"/><line x1="52.5" y1="357.18" x2="55.7" y2="357.18"/><line x1="52.5" y1="349.55" x2="55.7" y2="349.55"/><line x1="52.5" y1="343.31" x2="55.7" y2="343.31"/><line x1="52.5" y1="338.04" x2="55.7" y2="338.04"/><line x1="52.5" y1="333.47" x2="55.7" y2="333.47"/><line x1="52.5" y1="329.44" x2="55.7" y2="329.44"/><line x1="52.5" y1="302.13" x2="55.7" y2="302.13"/><line x1="52.5" y1="288.26" x2="55.7" y2="288.26"/><line x1="52.5" y1="278.42" x2="55.7" y2="278.42"/><line x1="52.5" y1="270.79" x2="55.7" y2="270.79"/><line x1="52.5" y1="264.55" x2="55.7" y2="264.55"/><line x1="52.5" y1="259.28" x2="55.7" y2="259.28"/><line x1="52.5" y1="254.71" x2="55.7" y2="254.71"/><line x1="52.5" y1="250.68" x2="55.7" y2="250.68"/><line x1="52.5" y1="223.37" x2="55.7" y2="223.37"/><line x1="52.5" y1="209.50" x2="55.7" y2="209.50"/><line x1="52.5" y1="199.66" x2="55.7" y2="199.66"/><line x1="52.5" y1="192.03" x2="55.7" y2="192.03"/><line x1="52.5" y1="185.79" x2="55.7" y2="185.79"/><line x1="52.5" y1="180.52" x2="55.7" y2="180.52"/><line x1="52.5" y1="175.95" x2="55.7" y2="175.95"/><line x1="52.5" y1="171.92" x2="55.7" y2="171.92"/><line x1="52.5" y1="144.61" x2="55.7" y2="144.61"/><line x1="52.5" y1="130.74" x2="55.7" y2="130.74"/><line x1="52.5" y1="120.90" x2="55.7" y2="120.90"/><line x1="52.5" y1="113.27" x2="55.7" y2="113.27"/><line x1="52.5" y1="107.03" x2="55.7" y2="107.03"/><line x1="52.5" y1="101.76" x2="55.7" y2="101.76"/><line x1="52.5" y1="97.19" x2="55.7" y2="97.19"/><line x1="52.5" y1="93.16" x2="55.7" y2="93.16"/><line x1="52.5" y1="65.85" x2="55.7" y2="65.85"/><line x1="52.5" y1="51.98" x2="55.7" y2="51.98"/><line x1="52.5" y1="42.14" x2="55.7" y2="42.14"/><line x1="52.5" y1="34.51" x2="55.7" y2="34.51"/><line x1="52.5" y1="28.27" x2="55.7" y2="28.27"/><line x1="52.5" y1="23.00" x2="55.7" y2="23.00"/><line x1="52.5" y1="18.43" x2="55.7" y2="18.43"/><line x1="52.5" y1="14.40" x2="55.7" y2="14.40"/>
</g>
<!-- axes box -->
<rect x="52.5" y="10.8" width="463.9" height="393.8" fill="none" stroke="#050505" stroke-width="2"/>
<!-- tick labels -->
<g fill="#333" font-size="17" stroke="#333" stroke-width="0.3">
<text x="53.40" y="424.5" text-anchor="middle">0</text>
<text x="130.12" y="424.5" text-anchor="middle">0.5</text>
<text x="207.13" y="424.5" text-anchor="middle">1</text>
<text x="284.45" y="424.5" text-anchor="middle">1.5</text>
<text x="361.27" y="424.5" text-anchor="middle">2</text>
<text x="438.18" y="424.5" text-anchor="middle">2.5</text>
<text x="514.90" y="424.5" text-anchor="middle">3</text>
<text x="46.8" y="18.20" text-anchor="end"><tspan letter-spacing="-0.7">10</tspan><tspan dy="-8.4" font-size="13.2">3</tspan></text>
<text x="46.8" y="96.96" text-anchor="end"><tspan letter-spacing="-0.7">10</tspan><tspan dy="-8.4" font-size="13.2">2</tspan></text>
<text x="46.8" y="175.72" text-anchor="end"><tspan letter-spacing="-0.7">10</tspan><tspan dy="-8.4" font-size="13.2">1</tspan></text>
<text x="46.8" y="254.48" text-anchor="end"><tspan letter-spacing="-0.7">10</tspan><tspan dy="-8.4" font-size="13.2">0</tspan></text>
<text x="46.8" y="333.24" text-anchor="end"><tspan letter-spacing="-0.7">10</tspan><tspan dy="-8.4" font-size="13.2">-1</tspan></text>
<text x="46.8" y="412.00" text-anchor="end"><tspan letter-spacing="-0.7">10</tspan><tspan dy="-8.4" font-size="13.2">-2</tspan></text>
</g>
<!-- axis labels -->
<g fill="#2a2a2a" font-size="17" stroke="#2a2a2a" stroke-width="0.3">
<text x="284.6" y="446.7" text-anchor="middle">Time (ms)</text>
<text transform="translate(13.4 194.8) rotate(-90)" text-anchor="middle">Evaporation momentum force/Buoyancy force</text>
</g>
<!-- legend -->
<g fill="#161616" font-size="17" stroke="#161616" stroke-width="0.3">
<text x="377.4" y="48.7">Wall superheat</text>
<text x="428.6" y="68.8">5°C</text>
<text x="428.6" y="95.8">10°C</text>
<text x="428.6" y="122.8">15°C</text>
</g>
<g stroke-width="1.7">
<line x1="392.5" y1="62.6" x2="426" y2="62.6" stroke="#1a1aff"/>
<line x1="392.5" y1="89.6" x2="426" y2="89.6" stroke="#f01818"/>
<line x1="392.5" y1="116.4" x2="426" y2="116.4" stroke="#111111"/>
</g>
</g>
</svg>
</body></html>
